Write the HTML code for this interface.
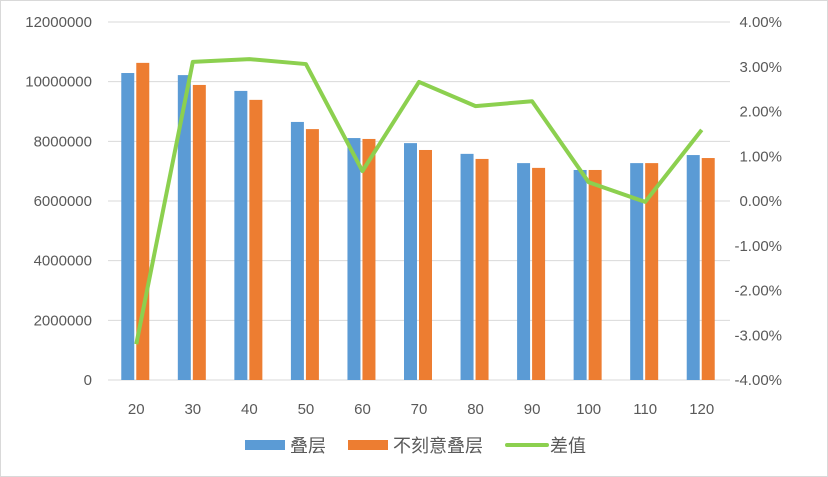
<!DOCTYPE html>
<html><head><meta charset="utf-8"><style>
body{margin:0;background:#fff}
svg{display:block;font-family:"Liberation Sans","Noto Sans CJK SC",sans-serif}
</style></head><body>
<svg id="c" width="828" height="477">
<rect x="0.5" y="0.5" width="827" height="476" fill="#fff" stroke="#d9d9d9"/>
<g id="grid"></g><g id="bars"></g><g id="line"></g><g id="axes"></g>
<g font-size="18" fill="#595959">
<rect x="245" y="440" width="40" height="10" fill="#5b9bd5"/>
<text x="290" y="452">叠层</text>
<rect x="348" y="440" width="40" height="10" fill="#ed7d31"/>
<text x="393" y="452">不刻意叠层</text>
<line x1="507" y1="445" x2="547" y2="445" stroke="#8cd04f" stroke-width="4" stroke-linecap="round"/>
<text x="550" y="452">差值</text>
</g>
</svg>
<script>
const categories=[20,30,40,50,60,70,80,90,100,110,120];
const stacked=[10290000,10220000,9690000,8650000,8110000,7940000,7580000,7270000,7040000,7270000,7540000];
const unstacked=[10630000,9890000,9390000,8410000,8080000,7710000,7410000,7110000,7040000,7270000,7440000];
const diff=[-3.2,3.11,3.17,3.06,0.67,2.66,2.12,2.23,0.42,-0.02,1.59];
const leftTicks=[0,2000000,4000000,6000000,8000000,10000000,12000000];
const rightTicks=[-4,-3,-2,-1,0,1,2,3,4];
const NS='http://www.w3.org/2000/svg';
const X0=108,X1=730,Y0=380,Y1=22;
const step=(X1-X0)/categories.length;
const xc=i=>X0+step*(i+0.5);
const yL=v=>Y0-(v/12000000)*(Y0-Y1);
const yR=v=>Y0-((v+4)/8)*(Y0-Y1);
function mk(tag,attrs,parent){const e=document.createElementNS(NS,tag);for(const k in attrs)e.setAttribute(k,attrs[k]);document.getElementById(parent).appendChild(e);return e;}
leftTicks.forEach(t=>{
 const l=mk('line',{x1:X0,x2:X1,y1:yL(t),y2:yL(t),stroke:'#d9d9d9'},'grid');
 
 
 const tx=mk('text',{x:92,y:yL(t)+5,'text-anchor':'end','font-size':15,fill:'#595959'},'axes');
 tx.textContent=t;
 
 
});
rightTicks.forEach(t=>{
 const tx=mk('text',{x:782,y:yR(t)+5,'text-anchor':'end','font-size':15,fill:'#595959'},'axes');
 tx.textContent=t.toFixed(2)+'%';
 
 
});
categories.forEach((c,i)=>{
 const tx=mk('text',{x:xc(i),y:414,'text-anchor':'middle','font-size':15,fill:'#595959'},'axes');
 tx.textContent=c;
 
 
 const b1=mk('rect',{x:xc(i)-15,y:yL(stacked[i]),width:13,height:Y0-yL(stacked[i]),fill:'#5b9bd5'},'bars');
 
 
 const b2=mk('rect',{x:xc(i)+0,y:yL(unstacked[i]),width:13,height:Y0-yL(unstacked[i]),fill:'#ed7d31'},'bars');
 
 
});
const pts=diff.map((v,i)=>xc(i)+','+yR(v)).join(' ');
const pl=mk('polyline',{points:pts,fill:'none',stroke:'#8cd04f','stroke-width':4,'stroke-linejoin':'round'},'line');


</script>
</body></html>
